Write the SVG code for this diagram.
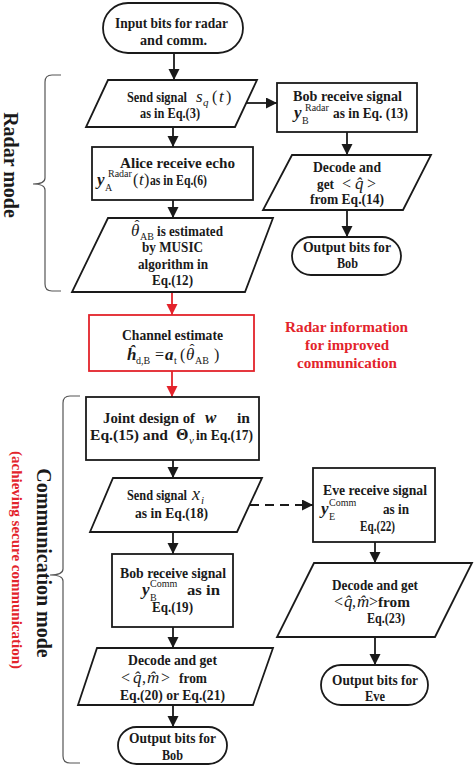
<svg xmlns="http://www.w3.org/2000/svg" width="474" height="766" viewBox="0 0 474 766">
<defs>
<style>
.s{fill:#fff;stroke:#1a1a1a;stroke-width:1.8}
.rb{fill:#fff;stroke:#e3232b;stroke-width:1.8}
text{font-family:"Liberation Serif","Times New Roman",serif;font-size:15px;font-weight:bold;fill:#1a1a1a}
.red{fill:#e3232b}
.i{font-style:italic;font-weight:normal;font-size:17px}
.bi{font-style:italic;font-weight:bold;font-size:17px}
.n{font-weight:normal;font-size:16px}
.sb{font-weight:normal;font-style:normal;font-size:10px}
.hat{font-weight:normal;font-size:15px;text-anchor:middle}
.side{font-size:20px;text-anchor:middle}
.cn{fill:none;stroke:#1a1a1a;stroke-width:1.8}
.cr{fill:none;stroke:#e3232b;stroke-width:1.8}
.br{fill:none;stroke:#555;stroke-width:1.2}
</style>
<marker id="a" markerUnits="userSpaceOnUse" markerWidth="12" markerHeight="12" refX="11" refY="5.5" orient="auto"><path d="M0,0L11,5.5L0,11z" fill="#1a1a1a"/></marker>
<marker id="ar" markerUnits="userSpaceOnUse" markerWidth="12" markerHeight="12" refX="11" refY="5.5" orient="auto"><path d="M0,0L11,5.5L0,11z" fill="#e3232b"/></marker>
</defs>

<g id="labels">
<path class="br" d="M61,75 H52 Q45,75 45,82 V178 Q45,184 33,184 Q45,184 45,190 V284 Q45,291 52,291 H61"/>
<path class="br" d="M80,396 H70 Q63,396 63,403 V569 Q63,575 50,575 Q63,575 63,581 V756 Q63,763 70,763 H80"/>
<text class="side" transform="translate(4,165) rotate(90)">Radar mode</text>
<text class="side" transform="translate(37,563) rotate(90)">Communication mode</text>
<text class="side red" style="font-size:15px" transform="translate(12,560) rotate(90)">(achieving secure communication)</text>
<text class="red" x="285" y="332" textLength="123" lengthAdjust="spacingAndGlyphs">Radar information</text>
<text class="red" x="305" y="350" textLength="84" lengthAdjust="spacingAndGlyphs">for improved</text>
<text class="red" x="297" y="368" textLength="100" lengthAdjust="spacingAndGlyphs">communication</text>
</g>

<g id="connectors">
<line class="cn" x1="174" y1="53" x2="174" y2="80" marker-end="url(#a)"/>
<line class="cn" x1="246" y1="103" x2="277" y2="103" marker-end="url(#a)"/>
<line class="cn" x1="173" y1="127" x2="173" y2="147" marker-end="url(#a)"/>
<line class="cn" x1="173" y1="200" x2="173" y2="218" marker-end="url(#a)"/>
<line class="cn" x1="347" y1="132" x2="347" y2="155" marker-end="url(#a)"/>
<line class="cn" x1="347" y1="210" x2="347" y2="237" marker-end="url(#a)"/>
<line class="cr" x1="172" y1="292" x2="172" y2="315" marker-end="url(#ar)"/>
<line class="cr" x1="172" y1="371" x2="172" y2="397" marker-end="url(#ar)"/>
<line class="cn" x1="173" y1="460" x2="173" y2="478" marker-end="url(#a)"/>
<line class="cn" x1="250" y1="505" x2="313" y2="505" stroke-dasharray="9,6" marker-end="url(#a)"/>
<line class="cn" x1="173" y1="532" x2="173" y2="554" marker-end="url(#a)"/>
<line class="cn" x1="375" y1="542" x2="375" y2="563" marker-end="url(#a)"/>
<line class="cn" x1="173" y1="627" x2="173" y2="648" marker-end="url(#a)"/>
<line class="cn" x1="375" y1="637" x2="375" y2="665" marker-end="url(#a)"/>
<line class="cn" x1="173" y1="705" x2="173" y2="727" marker-end="url(#a)"/>
</g>

<g id="input">
<rect class="s" x="103" y="3" width="140" height="50" rx="25"/>
<text x="115" y="28" textLength="113" lengthAdjust="spacingAndGlyphs">Input bits for radar</text>
<text x="140" y="45" textLength="67" lengthAdjust="spacingAndGlyphs">and comm.</text>
</g>

<g id="send-radar">
<polygon class="s" points="108,80 257,80 235,127 86,127"/>
<text x="127" y="102" textLength="60" lengthAdjust="spacingAndGlyphs">Send signal</text>
<text y="102"><tspan class="i" x="196">s</tspan><tspan class="sb" style="font-style:italic;font-size:11px" x="203" y="106">q</tspan><tspan class="n" x="212" y="102">(</tspan><tspan class="i" x="219">t</tspan><tspan class="n" x="226">)</tspan></text>
<text x="140" y="118" textLength="60" lengthAdjust="spacingAndGlyphs">as in Eq.(3)</text>
</g>

<g id="bob-receive-radar">
<rect class="s" x="277" y="83" width="140" height="49"/>
<text x="293" y="101" textLength="109" lengthAdjust="spacingAndGlyphs">Bob receive  signal</text>
<text y="118"><tspan class="bi" x="294">y</tspan><tspan class="sb" x="302" y="124">B</tspan><tspan class="sb" x="305" y="111">Radar</tspan></text>
<text x="333" y="118" textLength="75" lengthAdjust="spacingAndGlyphs">as in Eq. (13)</text>
</g>

<g id="decode-radar">
<polygon class="s" points="292,155 431,155 403,210 263,210"/>
<text x="313" y="172" textLength="68" lengthAdjust="spacingAndGlyphs">Decode and</text>
<text x="317" y="189" textLength="17" lengthAdjust="spacingAndGlyphs">get</text>
<text y="189"><tspan class="n" x="342">&lt;</tspan><tspan class="i" x="355">q̂</tspan><tspan class="n" x="367">&gt;</tspan></text>
<text x="310" y="204" textLength="74" lengthAdjust="spacingAndGlyphs">from Eq.(14)</text>
</g>

<g id="output-bob-radar">
<rect class="s" x="292" y="237" width="109" height="38" rx="19"/>
<text x="303" y="252" textLength="88" lengthAdjust="spacingAndGlyphs">Output bits for</text>
<text x="337" y="268" textLength="21" lengthAdjust="spacingAndGlyphs">Bob</text>
</g>

<g id="alice">
<rect class="s" x="92" y="147" width="161" height="53"/>
<text x="120" y="168" textLength="115" lengthAdjust="spacingAndGlyphs">Alice receive echo</text>
<text y="185"><tspan class="bi" x="97">y</tspan><tspan class="sb" x="105" y="191">A</tspan><tspan class="sb" x="108" y="177">Radar</tspan><tspan class="n" x="133" y="185">(</tspan><tspan class="i" x="139">t</tspan><tspan class="n" x="144">)</tspan></text>
<text x="150" y="185" textLength="57" lengthAdjust="spacingAndGlyphs">as in Eq.(6)</text>
</g>

<g id="music">
<polygon class="s" points="108,218 273,218 245,292 72,292"/>
<text y="236"><tspan class="i" x="131">θ</tspan><tspan class="sb" x="140" y="240">AB</tspan></text>
<text class="hat" x="137" y="230">ˆ</text>
<text x="157" y="236" textLength="66" lengthAdjust="spacingAndGlyphs">is estimated</text>
<text x="142" y="252" textLength="61" lengthAdjust="spacingAndGlyphs">by MUSIC</text>
<text x="138" y="269" textLength="70" lengthAdjust="spacingAndGlyphs">algorithm in</text>
<text x="152" y="285" textLength="41" lengthAdjust="spacingAndGlyphs">Eq.(12)</text>
</g>

<g id="channel">
<rect class="rb" x="89" y="315" width="165" height="56"/>
<text x="122" y="340" textLength="101" lengthAdjust="spacingAndGlyphs">Channel estimate</text>
<text y="360"><tspan class="bi" x="127">ĥ</tspan><tspan class="sb" x="136" y="364">d,B</tspan><tspan class="n" x="155" y="360">=</tspan><tspan class="bi" x="165">a</tspan><tspan class="sb" x="174" y="364">t</tspan><tspan class="n" x="180" y="360">(</tspan><tspan class="i" x="186">θ</tspan><tspan class="sb" x="195" y="364">AB</tspan><tspan class="n" x="214" y="360">)</tspan></text>
<text class="hat" x="192" y="354">ˆ</text>
</g>

<g id="joint-design">
<rect class="s" x="86" y="397" width="173" height="63"/>
<text x="103" y="423" textLength="92" lengthAdjust="spacingAndGlyphs">Joint  design of</text>
<text y="423"><tspan class="bi" x="205">w</tspan></text>
<text x="237" y="423" textLength="13" lengthAdjust="spacingAndGlyphs">in</text>
<text x="90" y="440" textLength="78" lengthAdjust="spacingAndGlyphs">Eq.(15) and</text>
<text y="440"><tspan x="176" style="font-size:16px">Θ</tspan><tspan class="sb" style="font-style:italic;font-size:11px" x="189" y="444">v</tspan></text>
<text x="196" y="440" textLength="57" lengthAdjust="spacingAndGlyphs">in Eq.(17)</text>
</g>

<g id="send-comm">
<polygon class="s" points="113,478 262,478 237,532 90,532"/>
<text x="127" y="500" textLength="60" lengthAdjust="spacingAndGlyphs">Send signal</text>
<text y="500"><tspan class="i" x="192" style="font-size:18px">x</tspan><tspan class="sb" style="font-style:italic;font-size:11px" x="201" y="504">i</tspan></text>
<text x="135" y="518" textLength="73" lengthAdjust="spacingAndGlyphs">as in Eq.(18)</text>
</g>

<g id="eve-receive">
<rect class="s" x="313" y="468" width="122" height="74"/>
<text x="323" y="495" textLength="104" lengthAdjust="spacingAndGlyphs">Eve receive signal</text>
<text y="514"><tspan class="bi" x="321">y</tspan><tspan class="sb" x="329" y="520">E</tspan><tspan class="sb" x="329" y="506">Comm</tspan></text>
<text x="383" y="514" textLength="26" lengthAdjust="spacingAndGlyphs">as in</text>
<text x="360" y="531" textLength="35" lengthAdjust="spacingAndGlyphs">Eq.(22)</text>
</g>

<g id="decode-eve">
<polygon class="s" points="314,563 472,563 435,637 277,637"/>
<text x="332" y="590" textLength="86" lengthAdjust="spacingAndGlyphs">Decode and get</text>
<text y="607"><tspan class="n" x="334">&lt;</tspan><tspan class="i" x="344">q̂</tspan><tspan class="n" x="352">,</tspan><tspan class="i" x="357">m̂</tspan><tspan class="n" x="369">&gt;</tspan></text>
<text x="378" y="607" textLength="32" lengthAdjust="spacingAndGlyphs">from</text>
<text x="367" y="623" textLength="38" lengthAdjust="spacingAndGlyphs">Eq.(23)</text>
</g>

<g id="output-eve">
<rect class="s" x="321" y="665" width="107" height="40" rx="20"/>
<text x="332" y="685" textLength="86" lengthAdjust="spacingAndGlyphs">Output bits for</text>
<text x="365" y="701" textLength="20" lengthAdjust="spacingAndGlyphs">Eve</text>
</g>

<g id="bob-receive-comm">
<rect class="s" x="112" y="554" width="121" height="73"/>
<text x="120" y="578" textLength="106" lengthAdjust="spacingAndGlyphs">Bob receive signal</text>
<text y="595"><tspan class="bi" x="142">y</tspan><tspan class="sb" x="150" y="601">B</tspan><tspan class="sb" x="150" y="587">Comm</tspan></text>
<text x="187" y="595" textLength="33" lengthAdjust="spacingAndGlyphs">as in</text>
<text x="152" y="612" textLength="41" lengthAdjust="spacingAndGlyphs">Eq.(19)</text>
</g>

<g id="decode-bob">
<polygon class="s" points="97,648 273,648 253,705 78,705"/>
<text x="128" y="665" textLength="89" lengthAdjust="spacingAndGlyphs">Decode and get</text>
<text y="683"><tspan class="n" x="121">&lt;</tspan><tspan class="i" x="133">q̂</tspan><tspan class="n" x="142">,</tspan><tspan class="i" x="147">m̂</tspan><tspan class="n" x="161">&gt;</tspan></text>
<text x="179" y="683" textLength="28" lengthAdjust="spacingAndGlyphs">from</text>
<text x="120" y="700" textLength="105" lengthAdjust="spacingAndGlyphs">Eq.(20) or Eq.(21)</text>
</g>

<g id="output-bob-comm">
<rect class="s" x="118" y="727" width="109" height="37" rx="18.5"/>
<text x="129" y="743" textLength="87" lengthAdjust="spacingAndGlyphs">Output bits for</text>
<text x="162" y="760" textLength="21" lengthAdjust="spacingAndGlyphs">Bob</text>
</g>
</svg>
